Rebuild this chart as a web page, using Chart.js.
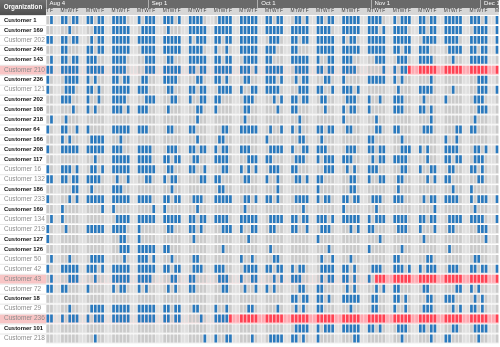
<!DOCTYPE html>
<html><head><meta charset="utf-8">
<script src="https://cdn.jsdelivr.net/npm/chart.js@4.4.1/dist/chart.umd.min.js"></script>
<style>html,body{margin:0;padding:0;background:#fff;overflow:hidden}#wrap{width:500px;height:347px;position:relative}</style>
</head><body><div id="wrap"><canvas id="c"></canvas></div>
<script>
const customers = ["Customer 1","Customer 169","Customer 202","Customer 246","Customer 143","Customer 210","Customer 236","Customer 121","Customer 202","Customer 108","Customer 218","Customer 64","Customer 166","Customer 208","Customer 117","Customer 16","Customer 132","Customer 186","Customer 233","Customer 169","Customer 134","Customer 219","Customer 127","Customer 126","Customer 50","Customer 42","Customer 43","Customer 72","Customer 18","Customer 29","Customer 236","Customer 101","Customer 218"];
const highlighted = [1,1,0,1,1,0,1,0,1,1,1,1,1,1,1,0,0,1,0,1,0,0,1,1,0,0,0,0,1,0,0,1,0];
const churnRows = [5, 26, 30];
const churnDates = ["2011-11-11", "2011-11-02", "2011-09-23"];
const monthTicks = ["Aug 4", "Sep 1", "Oct 1", "Nov 1", "Dec 1"];
const startDate = "2011-08-04";
const dayCount = 124;
// weekday activity per customer: Thu-Fri, then Mon..Fri weeks, then final Monday
const activity = [
"01 11011 11011 11110 10111 11101 11110 01111 11111 11011 01101 11011 11111 11110 10111 11011 11111 11101 1",
"00 00100 00111 11111 01111 01000 11111 11111 11111 11111 11111 11110 11111 11101 11110 11011 11111 01111 1",
"11 11011 01011 11111 11111 11111 10111 11011 11111 01110 11011 11111 10110 11111 11111 01111 11110 11111 1",
"00 11000 11011 11111 01111 11111 11110 10010 11111 11100 11000 11111 11111 11111 11011 11100 01111 11011 1",
"01 11011 11100 11110 00111 01100 11111 11011 01111 11000 11111 10011 11100 00111 01110 11110 00100 11111 0",
"11 11111 11111 11110 00111 11111 11011 11111 11101 11111 01111 11011 11110 00001 10110 00000 00000 00000 0",
"10 01111 10100 11011 01100 11110 00110 11010 01100 11101 01011 00110 10000 11111 10100 00010 00000 00111 0",
"10 01110 11010 11111 11100 01100 11011 01111 10011 11110 00111 11001 11101 00000 01000 11110 00100 00111 1",
"00 11100 10010 11110 00111 00110 10011 11000 01110 00101 11011 01100 01110 10010 11100 01000 10000 01110 0",
"00 00010 10100 11101 11100 01000 00110 10000 01100 00010 11000 00100 10110 10000 11100 11010 00000 00111 0",
"01 01000 00000 00000 00000 00000 00100 00000 01000 00000 00100 00000 10000 00100 00000 00010 00000 01000 0",
"10 11001 10000 11111 11100 01100 11000 00110 11111 01001 10100 11011 01100 00110 11000 01110 00011 11000 0",
"00 10100 01111 00100 00000 00000 00100 01100 00000 10000 00110 01000 00000 11000 00100 00000 10010 00000 0",
"10 11111 11111 11100 11110 01110 11011 10110 11100 01111 10011 11100 01110 11011 00111 10100 11110 01101 1",
"00 00000 00100 11111 11110 11011 01100 11110 00111 11000 01110 10111 11100 01011 11110 00100 11011 01110 0",
"10 11101 01101 11111 11111 01100 11001 00110 10101 01110 11000 00111 01010 11100 00110 10011 01100 11010 0",
"11 11011 11110 01001 00110 10110 00011 11000 01100 10010 01101 11000 00110 10011 01100 00101 11000 00110 0",
"00 00011 01000 11100 00000 00100 00000 01100 00000 00010 00000 10000 00110 00000 01000 00000 00100 10000 0",
"10 00101 11111 11111 11110 11011 01110 11111 01101 11010 01111 10110 11011 01110 11100 01011 11110 10111 1",
"00 10000 00001 10000 00001 10000 00100 00000 01000 00000 00010 00000 10000 00100 00000 00001 00000 01000 0",
"01 10000 00000 01111 11111 11111 11011 11110 11111 01111 11011 11101 11111 10111 11110 11011 01111 11110 1",
"10 01000 11111 11110 10000 01100 11010 00111 10011 01100 11001 01110 00101 11000 01110 10001 01100 00111 0",
"10 00000 00000 00110 10000 00000 01000 00000 00100 00000 00000 10000 00000 00010 00000 01000 00000 00001 0",
"00 00000 00000 00111 11111 11000 00000 00100 00000 01000 00000 00010 00000 10000 00100 00000 01000 00000 0",
"01 00100 01111 00010 11101 00100 01100 00000 10010 00110 00000 01001 00100 00000 11000 00110 00000 01100 0",
"10 11111 11101 11111 11111 11011 01110 11100 01111 11011 10110 01111 11010 01110 11101 10111 01110 11011 1",
"01 00111 00100 11111 11110 00110 11000 01110 10011 00101 11100 01011 11010 10000 00000 00000 00000 00000 0",
"11 11000 10000 10110 10100 01010 11000 00110 01001 10100 00110 11000 01010 00101 11000 01100 00011 10100 0",
"00 00000 00000 00000 00000 00000 00000 00000 00000 00000 11011 11010 11111 01100 11010 00110 11100 01010 0",
"00 00100 01111 11111 11111 11011 01100 10010 00110 00010 01010 11000 00100 01100 10010 01110 00101 11010 0",
"11 10111 10111 11111 11111 11011 00010 11110 00000 00000 00000 00000 00000 00000 00000 00000 00000 00000 0",
"00 00000 00000 00000 00000 00000 00000 00000 00000 00000 01111 10111 11111 11010 01110 11011 00110 01111 0",
"00 00000 00100 00000 00000 00000 00001 10011 00010 01111 11010 10000 00011 00000 00100 00010 11000 00100 0"
];

const MON = ["Jan","Feb","Mar","Apr","May","Jun","Jul","Aug","Sep","Oct","Nov","Dec"];
const DOW = ["S","M","T","W","T","F","S"];
const [sy, sm, sd] = startDate.split("-").map(Number);
const days = [];
for (let d = 0; d < dayCount; d++) {
  const dt = new Date(Date.UTC(sy, sm - 1, sd + d));
  days.push({ label: MON[dt.getUTCMonth()] + " " + dt.getUTCDate(), iso: dt.toISOString().slice(0, 10), dow: dt.getUTCDay() });
}
const isWeekend = d => days[d].dow === 0 || days[d].dow === 6;
const churnIdx = churnDates.map(s => days.findIndex(x => x.iso === s));

const BLUE = "#2a79bd", GRAY = "#cacaca", WEND = "#dfdfdf", RED = "#ff4253", PINK = "#ffa8b0";
const cellColors = activity.map((str, i) => {
  const bits = str.replace(/ /g, "");
  let k = 0;
  const ci = churnRows.indexOf(i);
  return days.map((day, d) => {
    const we = isWeekend(d);
    let on = false;
    if (!we) { on = bits[k] === "1"; k++; }
    if (ci >= 0 && d >= churnIdx[ci]) return we ? PINK : RED;
    if (on) return BLUE;
    return we ? WEND : GRAY;
  });
});

const FONT = "'Liberation Sans', Arial, Helvetica, sans-serif";

const bandPlugin = {
  id: "bands",
  beforeDraw(chart) {
    const { ctx, chartArea: ca, scales: { x, y } } = chart;
    const half = (x.getPixelForValue(1) - x.getPixelForValue(0)) / 2;
    ctx.save();
    ctx.fillStyle = "#fff";
    ctx.fillRect(0, 0, chart.width, chart.height);
    customers.forEach((name, i) => {
      const t = y.getPixelForValue(i - 0.5), b = y.getPixelForValue(i + 0.5);
      const ci = churnRows.indexOf(i);
      ctx.fillStyle = ci >= 0 ? "#f6e4e4" : "#eeeeee";
      ctx.fillRect(ca.left, t + 1, ca.right - ca.left, b - t - 1);
      ctx.fillStyle = "#e6e6e6";
      ctx.fillRect(0, t, ca.left, 1);
      if (ci >= 0) {
        const cx = x.getPixelForValue(churnIdx[ci]) - half;
        ctx.fillStyle = "#ffcfd3";
        ctx.fillRect(cx, t + 1, ca.right - cx, b - t - 1);
        ctx.fillStyle = "#f8c5c5";
        ctx.fillRect(0, t + 1, ca.left, b - t - 1);
      }
    });
    ctx.restore();
  },
  afterDraw(chart) {
    const { ctx, chartArea: ca } = chart;
    ctx.save();
    const g = ctx.createLinearGradient(0, 0, 0, ca.top);
    g.addColorStop(0, "#707070");
    g.addColorStop(1, "#4e4e4e");
    ctx.fillStyle = g;
    ctx.fillRect(0, 0, ca.left, ca.top);
    ctx.fillStyle = "#fff";
    ctx.font = "bold 6.3px " + FONT;
    ctx.textAlign = "center";
    ctx.textBaseline = "middle";
    ctx.fillText("Organization", ca.left / 2, ca.top / 2);
    ctx.restore();
  }
};

new Chart(document.getElementById("c"), {
  type: "bar",
  data: {
    labels: days.map(d => d.label),
    datasets: customers.map((name, i) => ({
      label: name,
      data: days.map(() => [i - 0.4, i + 0.4]),
      backgroundColor: cellColors[i],
      borderWidth: 0,
      grouped: false,
      barPercentage: 0.74,
      categoryPercentage: 1
    }))
  },
  options: {
    responsive: true,
    maintainAspectRatio: false,
    animation: false,
    events: [],
    layout: { padding: { left: 4, right: 0, top: 0, bottom: 0 } },
    plugins: { legend: { display: false }, tooltip: { enabled: false }, title: { display: false } },
    scales: {
      m: {
        type: "category",
        position: "top",
        weight: 1,
        offset: true,
        backgroundColor: "#696969",
        border: { display: false },
        grid: {
          offset: true, drawOnChartArea: false, drawTicks: true, tickLength: 8, lineWidth: 1,
          color: c => (c.index === 0 || days[c.index] && days[c.index].label.endsWith(" 1")) ? "#b0b0b0" : "rgba(0,0,0,0)"
        },
        ticks: {
          autoSkip: false, maxRotation: 0, minRotation: 0, align: "start", padding: -7,
          color: "#ffffff", font: { family: FONT, size: 6 },
          callback: (v, i) => {
            const lab = days[i].label;
            return (i === 0 || lab.endsWith(" 1")) && monthTicks.includes(lab) ? " " + lab : "";
          }
        },
        afterFit: s => { s.height = 8; }
      },
      x: {
        type: "category",
        position: "top",
        weight: 0,
        offset: true,
        backgroundColor: "#d7d7d7",
        border: { display: false },
        grid: { display: false, drawTicks: false },
        ticks: {
          autoSkip: false, maxRotation: 0, minRotation: 0, padding: 1,
          color: "#3a3a3a", font: { family: FONT, size: 4.8 },
          callback: (v, i) => isWeekend(i) ? "" : DOW[days[i].dow]
        },
        afterFit: s => { s.height = 7; }
      },
      y: {
        type: "linear",
        position: "left",
        reverse: true,
        min: -0.5,
        max: customers.length - 0.5,
        border: { display: false },
        grid: { display: false },
        afterBuildTicks: s => { s.ticks = customers.map((c, i) => ({ value: i })); },
        ticks: {
          autoSkip: false, crossAlign: "far", padding: 0,
          font: c => highlighted[c.index]
            ? { family: FONT, size: 5.9, weight: "bold" }
            : { family: FONT, size: 6.5, weight: "normal" },
          color: c => highlighted[c.index] ? "#111111" : "#8c8c8c",
          callback: v => customers[v] ?? ""
        },
        afterFit: s => { s.width = 42; }
      }
    }
  },
  plugins: [bandPlugin]
});
</script>
</body></html>
